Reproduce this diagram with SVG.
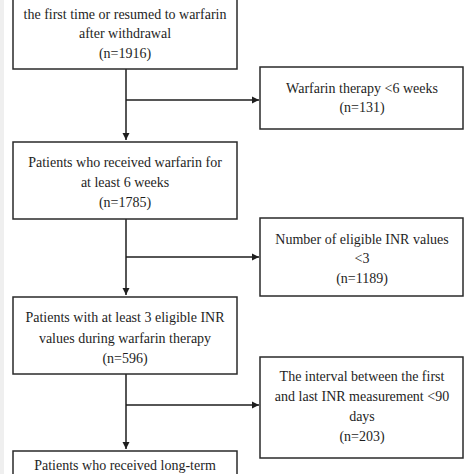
<svg xmlns="http://www.w3.org/2000/svg" width="474" height="474" viewBox="0 0 474 474">
<defs>
<style>
.box{fill:#fff;stroke:#2a2a2a;stroke-width:1.5}
.t{font-family:"Liberation Serif","Times New Roman",serif;font-size:14px;fill:#1e1e1e;text-anchor:middle}
.c{stroke:#1e1e1e;stroke-width:1.5;fill:none}
</style>
<marker id="ah" markerWidth="8" markerHeight="8" refX="7" refY="4" orient="auto" markerUnits="userSpaceOnUse">
<path d="M0,0.5 L7,4 L0,7.5 Z" fill="#1e1e1e"/>
</marker>
</defs>
<rect x="0" y="0" width="474" height="474" fill="#fff"/>
<rect x="0" y="0" width="4" height="474" fill="#efefef"/>
<g id="connectors">
<path class="c" d="M126,69 V140" marker-end="url(#ah)"/>
<path class="c" d="M126,100 H259" marker-end="url(#ah)"/>
<path class="c" d="M126,219 V295" marker-end="url(#ah)"/>
<path class="c" d="M126,257 H259" marker-end="url(#ah)"/>
<path class="c" d="M126,374 V449" marker-end="url(#ah)"/>
<path class="c" d="M126,405 H259" marker-end="url(#ah)"/>
</g>
<g id="n1">
<rect class="box" x="13" y="-10" width="224" height="79"/>
<text class="t" x="125" y="19">the first time or resumed to warfarin</text>
<text class="t" x="125" y="38">after withdrawal</text>
<text class="t" x="125" y="58">(n=1916)</text>
</g>
<g id="n2">
<rect class="box" x="260" y="67" width="203" height="62"/>
<text class="t" x="362" y="93">Warfarin therapy &lt;6 weeks</text>
<text class="t" x="362" y="112">(n=131)</text>
</g>
<g id="n3">
<rect class="box" x="13" y="142" width="224" height="77"/>
<text class="t" x="125" y="167">Patients who received warfarin for</text>
<text class="t" x="125" y="187">at least 6 weeks</text>
<text class="t" x="125" y="207">(n=1785)</text>
</g>
<g id="n4">
<rect class="box" x="260" y="218" width="203" height="78"/>
<text class="t" x="362" y="244">Number of eligible INR values</text>
<text class="t" x="362" y="263">&lt;3</text>
<text class="t" x="362" y="283">(n=1189)</text>
</g>
<g id="n5">
<rect class="box" x="13" y="297" width="224" height="77"/>
<text class="t" x="125" y="322">Patients with at least 3 eligible INR</text>
<text class="t" x="125" y="343">values during warfarin therapy</text>
<text class="t" x="125" y="363">(n=596)</text>
</g>
<g id="n6">
<rect class="box" x="260" y="357" width="203" height="101"/>
<text class="t" x="362" y="381">The interval between the first</text>
<text class="t" x="362" y="401">and last INR measurement &lt;90</text>
<text class="t" x="362" y="421">days</text>
<text class="t" x="362" y="441">(n=203)</text>
</g>
<g id="n7">
<rect class="box" x="13" y="451" width="224" height="40"/>
<text class="t" x="125" y="470">Patients who received long-term</text>
</g>
</svg>
